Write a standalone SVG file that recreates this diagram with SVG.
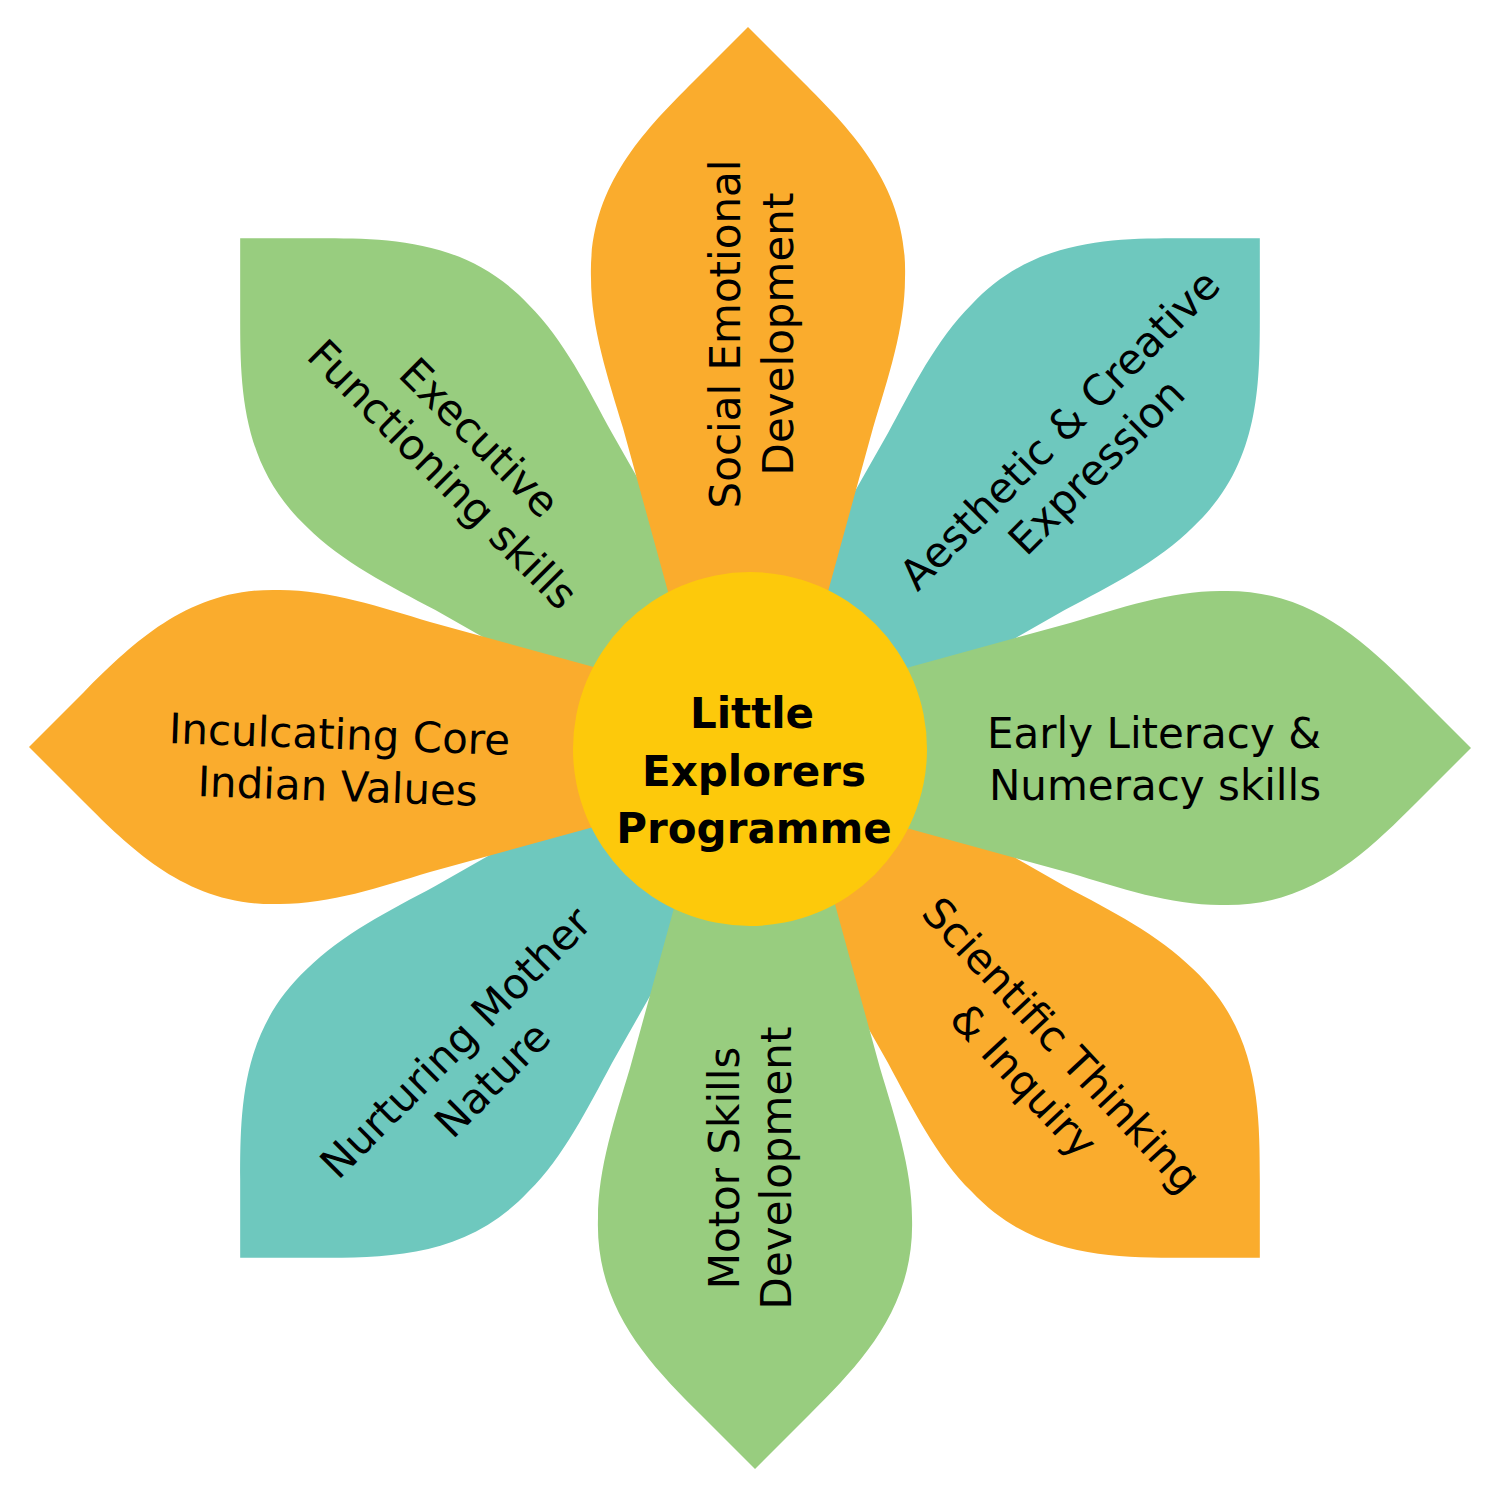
<svg xmlns="http://www.w3.org/2000/svg" xmlns:xlink="http://www.w3.org/1999/xlink" width="1500" height="1500" viewBox="0 0 1500 1500">
  <style>
    .orange { fill: #FAAC2D; }
    .green { fill: #98CD7F; }
    .teal { fill: #6EC8BE; }
    .hub { fill: #FDC90B; }
    .lbl { font-family: "DejaVu Sans", "Open Sans", sans-serif; font-size: 42px; fill: #000; text-anchor: middle; }
    .hubtxt { font-family: "DejaVu Sans", "Open Sans", sans-serif; font-size: 42px; font-weight: bold; fill: #000; text-anchor: middle; }
  </style>
  <defs>
    <path id="petal" d="M 0,-721 L 55,-666 C 105,-616 160,-560 157,-470 C 157,-420 140,-370 125,-320 L 70,-120 L -70,-120 L -125,-320 C -140,-370 -157,-420 -157,-470 C -160,-560 -105,-616 -55,-666 Z"/>
  </defs>
  <rect width="1500" height="1500" fill="#ffffff"/>
  <g id="connectors"/>

  <g id="node-aesthetic">
    <use xlink:href="#petal" href="#petal" class="teal" transform="translate(750,748) rotate(45)"/>
    <g transform="translate(1070,440) rotate(-45)">
      <text class="lbl" x="0" y="0">Aesthetic &amp; Creative</text>
      <text class="lbl" x="0" y="52">Expression</text>
    </g>
  </g>
  <g id="node-scientific">
    <use xlink:href="#petal" href="#petal" class="orange" transform="translate(750,748) rotate(135)"/>
    <g transform="translate(1051,1055) rotate(47)">
      <text class="lbl" x="0" y="0">Scientific Thinking</text>
      <text class="lbl" x="0" y="52">&amp; Inquiry</text>
    </g>
  </g>
  <g id="node-nature">
    <use xlink:href="#petal" href="#petal" class="teal" transform="translate(750,748) rotate(225)"/>
    <g transform="translate(466,1053) rotate(-45)">
      <text class="lbl" x="0" y="0">Nurturing Mother</text>
      <text class="lbl" x="0" y="52">Nature</text>
    </g>
  </g>
  <g id="node-executive">
    <use xlink:href="#petal" href="#petal" class="green" transform="translate(750,748) rotate(315)"/>
    <g transform="translate(469,448) rotate(45)">
      <text class="lbl" x="0" y="0">Executive</text>
      <text class="lbl" x="0" y="52">Functioning skills</text>
    </g>
  </g>

  <g id="node-social">
    <use xlink:href="#petal" href="#petal" class="orange" transform="translate(748,748) rotate(0)"/>
    <g transform="translate(740,334) rotate(-90)">
      <text class="lbl" x="0" y="0">Social Emotional</text>
      <text class="lbl" x="0" y="53">Development</text>
    </g>
  </g>
  <g id="node-literacy">
    <use xlink:href="#petal" href="#petal" class="green" transform="translate(750,748) rotate(90)"/>
    <text class="lbl" x="1154" y="748">Early Literacy &amp;</text>
    <text class="lbl" x="1155" y="800">Numeracy skills</text>
  </g>
  <g id="node-motor">
    <use xlink:href="#petal" href="#petal" class="green" transform="translate(755,748) rotate(180)"/>
    <g transform="translate(739,1168) rotate(-90)">
      <text class="lbl" x="0" y="0">Motor Skills</text>
      <text class="lbl" x="0" y="52">Development</text>
    </g>
  </g>
  <g id="node-values">
    <use xlink:href="#petal" href="#petal" class="orange" transform="translate(750,747) rotate(270)"/>
    <g transform="translate(339,749) rotate(2)">
      <text class="lbl" x="0" y="0">Inculcating Core</text>
      <text class="lbl" x="0" y="52">Indian Values</text>
    </g>
  </g>

  <g id="node-center">
    <circle class="hub" cx="750" cy="749" r="177"/>
    <text class="hubtxt" x="752" y="728">Little</text>
    <text class="hubtxt" x="754" y="786">Explorers</text>
    <text class="hubtxt" x="754" y="843">Programme</text>
  </g>
</svg>
